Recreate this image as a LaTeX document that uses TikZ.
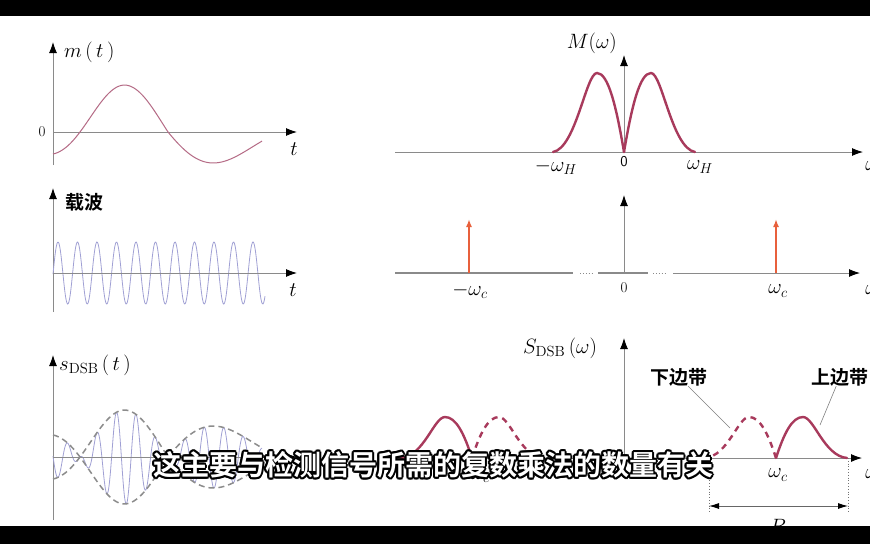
\documentclass[tikz,border=0pt]{standalone}
\usepackage{fontspec}
\newfontfamily\cjk{Noto Sans CJK SC}[BoldFont=* Bold]
\usetikzlibrary{arrows.meta}
\definecolor{axisgray}{HTML}{8A8A8A}
\definecolor{sigpink}{HTML}{B56A85}
\definecolor{carblue}{HTML}{A0A0D4}
\definecolor{specred}{HTML}{A83A5C}
\definecolor{impred}{HTML}{E8603C}
\tikzset{
  axisarr/.style={draw=axisgray, line width=0.9pt, -{Latex[length=11pt,width=8pt,color=black]}},
  axisline/.style={draw=axisgray, line width=0.9pt},
  sigline/.style={draw=sigpink, line width=1pt},
  carline/.style={draw=carblue, line width=0.8pt},
  envline/.style={draw=black!45, line width=1.5pt, dash pattern=on 6pt off 4pt},
  specline/.style={draw=specred, line width=2.4pt, line cap=round},
  specdash/.style={draw=specred, line width=2.4pt, dash pattern=on 6pt off 5pt},
  impulse/.style={draw=impred, line width=1.6pt, -{Latex[length=8pt,width=6pt]}},
  lbl/.style={inner sep=0pt, font=\fontsize{20}{22}\selectfont},
  ttl/.style={inner sep=0pt, font=\fontsize{21}{23}\selectfont},
  smlbl/.style={inner sep=0pt, font=\fontsize{15}{17}\selectfont},
  cjklbl/.style={inner sep=0pt, font=\cjk\bfseries\fontsize{19}{21}\selectfont},
  subtxt/.style={inner sep=0pt, font=\cjk\bfseries\fontsize{28}{30}\selectfont},
  callout/.style={draw=black!50, line width=0.6pt},
  dimline/.style={draw=black!55, line width=0.8pt, dotted},
  dimarr/.style={draw=black!60, line width=0.9pt, {Latex[length=10pt,width=6pt,color=black]}-{Latex[length=10pt,width=6pt,color=black]}},
}
% one sideband lobe, (origin)(direction:height)
\def\lobe[#1](#2)(#3:#4){\draw[#1,shift={(#2)},xscale=#3,yscale=#4] (0,0) .. controls (8,-0.6) and (16,-1) .. (27,-1) .. controls (38,-1) and (48,-0.05) .. (71,0);}

\begin{document}
\begin{tikzpicture}[x=1pt,y=-1pt,
  declare function={
    mph(\x)=(\x<168)*((\x-80)/88*180)+(\x>=168)*(180+(\x-168)/112*180);
    mw(\x)=100+40*(\x>=128);
    msig(\x)=47*exp(-((\x-128)/mw(\x))*((\x-128)/mw(\x)))*sin(mph(\x));
    carr(\x)=cos((\x-58)/19.5*360);
  }]
		%%%%% START %%%%%
		\fill[white] (0,0) rectangle (870,544);
		\useasboundingbox (0,0) rectangle (870,544);
		\clip (0,0) rectangle (870,544);
		
		% m(t)
		\draw[axisline] (53,165) -- (53,132);
		\draw[axisarr] (53,132) -- (53,42);
		\draw[axisarr] (53,132) -- (297,132);
		\draw[sigline] plot[domain=53:262, samples=120] (\x, {132-msig(\x)});
		\node[ttl, anchor=west] (mlab) at (64,52) {$m\,\bigl(\,t\,\bigr)$};
		\node[smlbl] (mzero) at (42,132) {0};
		\node[lbl] (mt) at (294,149) {$t$};
		
		% carrier
		\draw[axisline] (53,312) -- (53,273);
		\draw[axisarr] (53,273) -- (53,188);
		\draw[carline] plot[domain=53:265, samples=320, smooth] (\x, {273-31*carr(\x)});
		\draw[axisarr] (53,273) -- (297,273);
		\node[cjklbl, anchor=west] (clab) at (65,202) {载波};
		\node[lbl] (ct) at (293,290) {$t$};
		
		% s_DSB(t)
		\draw[axisline] (53,520) -- (53,457);
		\draw[axisarr] (53,457) -- (53,355);
		\draw[carline] plot[domain=53:262, samples=400] (\x, {457-msig(\x)*carr(\x)});
		\draw[axisarr] (53,457) -- (297,457);
		\draw[envline] plot[domain=53:262, samples=120] (\x, {457-msig(\x)});
		\draw[envline] plot[domain=53:262, samples=120] (\x, {457+msig(\x)});
		\node[ttl, anchor=west] (slab) at (59,365) {$s_{\mathrm{DSB}}\,\bigl(\,t\,\bigr)$};
		
		% M(omega)
		\draw[axisarr] (395,152) -- (863,152);
		\draw[axisarr] (624,152) -- (624,55);
		\lobe[specline](624,152)(1:79)
		\lobe[specline](624,152)(-1:79)
		\node[ttl, anchor=east] (Mlab) at (617,43) {$M\bigl(\omega\bigr)$};
		\node[lbl] (mwh) at (556,167) {$-\omega_H$};
		\node[smlbl, font=\sffamily\fontsize{15}{17}\selectfont] (mw0) at (624,162) {0};
		\node[lbl] (pwh) at (700,167) {$\omega_H$};
		\node[lbl] (Mw) at (872,166) {$\omega$};
		
		% carrier spectrum
		\draw[axisline, line width=1.8pt] (395,273) -- (573,273);
		\draw[axisline, dotted] (580,273) -- (594,273);
		\draw[axisline, line width=1.8pt] (598,273) -- (648,273);
		\draw[axisline, dotted] (653,273) -- (667,273);
		\draw[axisarr] (673,273) -- (860,273);
		\draw[axisarr] (624,273) -- (624,195);
		\draw[impulse] (469,273) -- (469,219);
		\draw[impulse] (776,273) -- (776,219);
		\node[lbl] (mwc) at (470,291) {$-\omega_c$};
		\node[smlbl] (cw0) at (624,288) {0};
		\node[lbl] (pwc) at (778,291) {$\omega_c$};
		\node[lbl] (Cw) at (872,290) {$\omega$};
		
		% S_DSB(omega)
		\draw[axisarr] (395,458) -- (862,458);
		\draw[axisarr] (624,458) -- (624,338);
		\lobe[specline](472,458)(-1:41)
		\lobe[specdash](472,458)(1:41)
		\lobe[specdash](776,458)(-1:41)
		\lobe[specline](776,458)(1:41)
		\node[ttl] (Slab) at (560,348) {$S_{\mathrm{DSB}}\,\bigl(\omega\bigr)$};
		\node[lbl] (smwc) at (472,475) {$-\omega_c$};
		\node[lbl] (spwc) at (778,475) {$\omega_c$};
		\node[lbl] (Sw) at (872,474) {$\omega$};
		\node[cjklbl] (lsb) at (679,377) {下边带};
		\node[cjklbl] (usb) at (840,377) {上边带};
		\coordinate (lsbpt) at (730,428);
		\coordinate (usbpt) at (820,425);
		\draw[callout] (lsb) -- (lsbpt);
		\draw[callout] (usb) -- (usbpt);
		\draw[dimline] (709,458) -- (709,512);
		\draw[dimline] (848,458) -- (848,512);
		\coordinate (dl) at (709,506);
		\coordinate (dr) at (848,506);
		\draw[dimarr] (dl) -- (dr);
		\node[lbl, anchor=base] (bw) at (778,533) {$B$};
		
		% subtitle
		\foreach \a in {0,30,...,330}
			\node[subtxt, text=black, shift={(\a:2pt)}] (sh\a) at (433,465) {这主要与检测信号所需的复数乘法的数量有关};
		\node[subtxt, text=white] (sub) at (433,465) {这主要与检测信号所需的复数乘法的数量有关};
		
		% black bars
		\fill[black] (0,0) rectangle (870,16);
		\fill[black] (0,526) rectangle (870,544);
		%%%%% END %%%%%
\end{tikzpicture}
\end{document}
